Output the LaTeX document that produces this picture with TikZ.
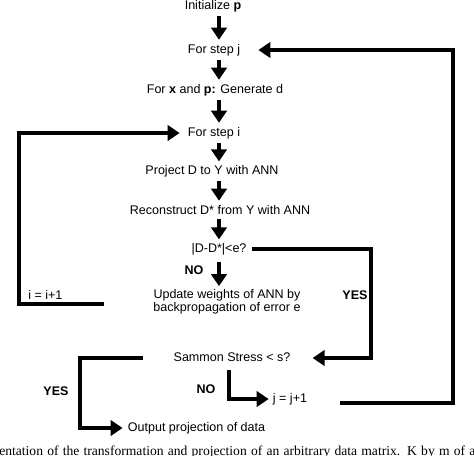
\documentclass[tikz,border=0pt]{standalone}
\usepackage{fontspec}
\setmainfont{Liberation Sans}
\newfontfamily\capfont{Liberation Serif}
\usetikzlibrary{arrows.meta}
\begin{document}
\begin{tikzpicture}[x=0.75pt,y=-0.75pt,
  lbl/.style={inner sep=0pt, font=\fontsize{9.4}{10}\selectfont, text height=7pt, text depth=2pt},
  multi/.style={inner sep=0pt, font=\fontsize{9.4}{9.6}\selectfont, align=center},
  bl/.style={lbl, font=\fontsize{9.4}{10}\selectfont\bfseries},
  arr/.style={line width=2.5pt, -{Triangle[length=9pt,width=11.5pt]}}]
\useasboundingbox (0,0) rectangle (474,455);
% nodes
\node[lbl] (init) at (213,6.5) {Initialize \textbf{p}};
\node[lbl] (stepj) at (214,50) {For step j};
\node[lbl] (gen) at (215,90) {For \textbf{x} and \textbf{p:} Generate d};
\node[lbl] (stepi) at (214,133) {For step i};
\node[lbl] (proj) at (212,171) {Project D to Y with ANN};
\node[lbl] (rec) at (220,211) {Reconstruct D* from Y with ANN};
\node[lbl] (cmp) at (219,249) {|D-D*|<e?};
\node[multi] (upd) at (227,302) {Update weights of ANN by\\backpropagation of error e};
\node[lbl] (sam) at (232,358) {Sammon Stress < s?};
\node[lbl] (jinc) at (290,399) {j = j+1};
\node[lbl] (out) at (196.5,428) {Output projection of data};
\node[lbl, anchor=west] (iinc) at (28,296) {i = i+1};
\node[bl] (no1) at (194,271) {NO};
\node[bl] (yes1) at (355,296) {YES};
\node[bl] (yes2) at (56,392) {YES};
\node[bl] (no2) at (206,390) {NO};
% caption fragment (cut by the lower edge, as in the reference)
\node[anchor=base west, inner sep=0pt, font=\capfont\fontsize{10.2}{11}\selectfont] (cap) at (-1,455.5)
  {\makebox[357pt][s]{entation of the transformation and projection of an arbitrary data matrix. K by m of a}};
% helper coordinates
\coordinate (ax) at (219,0);
\coordinate (lx) at (19,0);
\coordinate (rx) at (453,0);
\coordinate (cx) at (371,0);
\coordinate (yx) at (80,0);
\coordinate (nx) at (229,0);
\coordinate (iend) at (104,304);
\coordinate (jend) at (340,403);
% main chain
\draw[arr, shorten <=2.5pt, shorten >=3pt] (init.south -| ax) -- (stepj.north -| ax);
\draw[arr, shorten <=2.5pt, shorten >=3pt] (stepj.south -| ax) -- (gen.north -| ax);
\draw[arr, shorten <=3pt, shorten >=3pt] (gen.south -| ax) -- (stepi.north -| ax);
\draw[arr, shorten <=2.5pt, shorten >=2.5pt] (stepi.south -| ax) -- (proj.north -| ax);
\draw[arr, shorten <=3pt, shorten >=3pt] (proj.south -| ax) -- (rec.north -| ax);
\draw[arr, shorten <=1pt, shorten >=2.5pt] (rec.south -| ax) -- (cmp.north -| ax);
\draw[arr, shorten <=5pt, shorten >=2.5pt] (cmp.south -| ax) -- (upd.north -| ax);
% loops
\draw[arr, shorten >=6pt] (iend) -- (iend -| lx) |- (stepi.west);
\draw[arr, shorten >=13.5pt] (jend) -- (jend -| rx) |- (stepj.east);
\draw[arr, shorten <=4pt, shorten >=16.5pt] (cmp.east) -- (cmp.east -| cx) |- (sam.east);
\draw[arr, shorten <=23pt, shorten >=3.75pt] (sam.west) -- (sam.west -| yx) |- (out.west);
\draw[arr, shorten <=4.5pt, shorten >=3pt] (sam.south -| nx) |- (jinc.west);
\end{tikzpicture}
\end{document}
